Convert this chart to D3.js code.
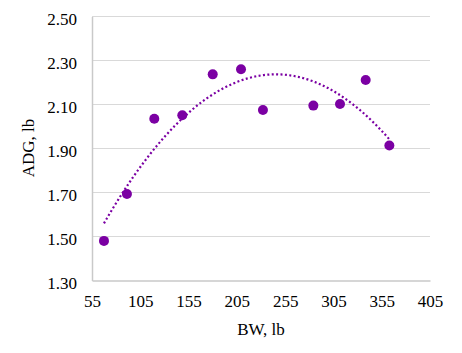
<!DOCTYPE html>
<html>
<head>
<meta charset="utf-8">
<script src="https://cdn.jsdelivr.net/npm/d3@7"></script>
<style>
  html, body { margin: 0; padding: 0; background: #fff; }
  svg { display: block; }
  svg text { font-family: "Liberation Serif", "Times New Roman", serif !important; fill: #000; }
</style>
</head>
<body>
<svg id="chart" width="462" height="353"></svg>
<script>
// Data
const bw  = [67.4, 91.2, 119.5, 148.5, 180.0, 209.3, 232.0, 284.2, 311.8, 338.4, 362.9];
const adg = [1.48, 1.693, 2.035, 2.051, 2.237, 2.26, 2.075, 2.095, 2.102, 2.211, 1.914];
const xTicks = [55, 105, 155, 205, 255, 305, 355, 405];
const yTicks = [1.30, 1.50, 1.70, 1.90, 2.10, 2.30, 2.50];
const xLabel = "BW, lb";
const yLabel = "ADG, lb";

(function () {
const svg = d3.select("#chart");
const pLeft = 92, pRight = 430, pTop = 16.5, pBottom = 280.5;
const color = "#7b00a3";
const serif = '"Liberation Serif", "Times New Roman", serif';

const x = d3.scaleLinear().domain([55, 405]).range([pLeft, pRight]);
const y = d3.scaleLinear().domain([1.30, 2.50]).range([pBottom, pTop]);

// gridlines
svg.append("g").selectAll("line").data(yTicks.slice(1)).join("line")
  .attr("x1", pLeft).attr("x2", pRight)
  .attr("y1", d => y(d)).attr("y2", d => y(d))
  .attr("stroke", "#d9d9d9").attr("stroke-width", 1.2);

// axes
const yAxis = d3.axisLeft(y).tickValues(yTicks).tickFormat(d3.format(".2f")).tickSize(0).tickPadding(15);
const gy = svg.append("g").attr("transform", `translate(${pLeft},0)`).call(yAxis)
  .attr("font-family", serif).attr("font-size", 17);
gy.select(".domain").attr("stroke", "#c9c9c9").attr("stroke-width", 1.5);
gy.selectAll("text").style("font-family", serif).style("font-size", "17px").attr("dy", "0.47em");

const xAxis = d3.axisBottom(x).tickValues(xTicks).tickFormat(d3.format("d")).tickSize(0).tickPadding(14);
const gx = svg.append("g").attr("transform", `translate(0,${pBottom})`).call(xAxis)
  .attr("font-family", serif).attr("font-size", 17);
gx.select(".domain").attr("stroke", "#c9c9c9").attr("stroke-width", 1.5);
gx.selectAll("text").style("font-family", serif).style("font-size", "17px");

// polynomial (order 2) trendline: least squares fit of the data
function quadFit(xs, ys) {
  const n = xs.length;
  const s = [0,0,0,0,0], t = [0,0,0];
  for (let i = 0; i < n; i++) {
    const xv = xs[i];
    for (let k = 0; k < 5; k++) s[k] += Math.pow(xv, k);
    for (let k = 0; k < 3; k++) t[k] += ys[i] * Math.pow(xv, k);
  }
  const M = [[s[0], s[1], s[2], t[0]], [s[1], s[2], s[3], t[1]], [s[2], s[3], s[4], t[2]]];
  for (let c = 0; c < 3; c++) {
    for (let r = c + 1; r < 3; r++) {
      const f = M[r][c] / M[c][c];
      for (let k = c; k < 4; k++) M[r][k] -= f * M[c][k];
    }
  }
  const b = [0,0,0];
  for (let r = 2; r >= 0; r--) {
    let v = M[r][3];
    for (let k = r + 1; k < 3; k++) v -= M[r][k] * b[k];
    b[r] = v / M[r][r];
  }
  return b;
}
const coef = quadFit(bw, adg);
const xmin = d3.min(bw), xmax = d3.max(bw);
const trendX = d3.range(0, 101).map(i => xmin + (xmax - xmin) * i / 100);
const line = d3.line().x(d => x(d)).y(d => y(coef[0] + coef[1] * d + coef[2] * d * d));
svg.append("path").datum(trendX).attr("d", line)
  .attr("fill", "none").attr("stroke", color).attr("stroke-width", 2.2)
  .attr("stroke-dasharray", "2,2.4");

// points
svg.append("g").selectAll("circle").data(bw.map((d, i) => [d, adg[i]])).join("circle")
  .attr("cx", d => x(d[0])).attr("cy", d => y(d[1])).attr("r", 5)
  .attr("fill", color);

// axis titles
svg.append("text").attr("x", 261).attr("y", 335).attr("text-anchor", "middle")
  .style("font-size", "17px").text(xLabel);
svg.append("text").attr("transform", "translate(34,148) rotate(-90)").attr("text-anchor", "middle")
  .style("font-size", "17px").text(yLabel);
})();
</script>
</body>
</html>
